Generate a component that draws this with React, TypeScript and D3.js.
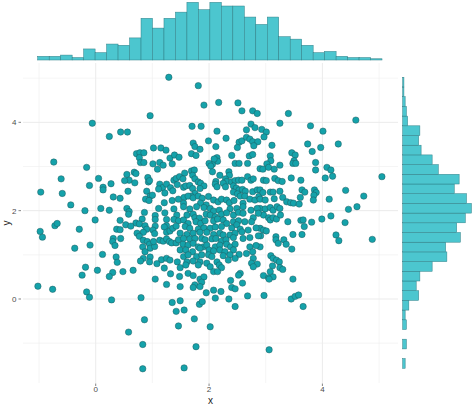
import React from "react";
import * as d3 from "d3";

const W = 474;
const H = 405;

const xMajorTicks = [0, 2, 4];
const yMajorTicks = [0, 2, 4];
const xMinorTicks = [-1, 1, 3, 5];
const yMinorTicks = [-1, 1, 3, 5];

// marginal histogram of x: 30 bins between these limits (counts)
const xHistRange = [-1.023, 5.052];
const xHistCounts = [3, 3, 4, 2, 9, 6, 13, 12, 18, 34, 26, 34, 39, 47, 41, 47, 44, 44, 35, 29, 35, 19, 17, 12, 6, 7, 3, 2, 2, 1];

// marginal histogram of y: 30 bins, from bottom (low y) to top (high y)
const yHistRange = [-1.569, 5.019];
const yHistCounts = [2, 0, 3, 0, 3, 2, 5, 13, 11, 14, 24, 36, 35, 47, 44, 51, 56, 52, 42, 46, 29, 24, 15, 13, 14, 4, 3, 2, 1, 1];

const points: [number, number][] = [
  [1.29,5.02],[1.81,4.83],[1.91,4.39],[2.17,4.45],[2.51,4.44],
  [-0.06,3.98],[-0.74,3.10],[-0.16,2.98],[-0.61,2.72],[-0.97,2.42],
  [-0.59,2.39],[-0.11,2.57],[0.05,2.73],[-0.44,2.13],[-0.19,2.00],
  [-0.01,1.79],[-0.29,1.58],[-0.72,1.66],[-0.68,1.71],[-0.98,1.53],[-0.94,1.40],
  [-0.37,1.15],[-0.10,1.22],[-0.18,0.72],[-0.24,0.54],[0.03,0.65],[-1.02,0.29],[-0.76,0.22],[-0.16,0.16],[-0.11,0.04],[0.28,-0.02],[0.80,0.03],[0.86,-0.47],[0.58,-0.75],[0.83,-1.03],[0.83,-1.58],[1.56,-1.56],[1.77,-1.08],[2.02,-0.63],[1.74,-0.45],[1.46,-0.61],[1.35,-0.08],[1.49,-0.04],[1.42,-0.28],[1.56,-0.25],[1.83,-0.12],[1.88,-0.06],
  [3.66,-0.17],[2.46,-0.17],[3.06,-1.15],[1.95,0.14],[2.08,0.20],[2.11,0.02],[2.21,0.17],[2.35,0.00],[2.68,0.07],[2.97,0.08],[3.45,0.00],[3.52,0.06],[3.58,0.09],
  [4.59,4.05],[5.05,2.77],[4.41,2.46],[4.73,2.33],[4.61,2.09],[4.46,2.03],[4.40,1.73],[4.88,1.35],
  [0.96,4.15],[0.24,3.68],[0.44,3.78],[0.56,3.78],[1.02,3.42],[1.15,3.42],[1.24,3.37],[0.72,3.29],[0.78,3.31],[0.85,3.31],[0.77,3.20],[0.79,3.09],[0.85,3.09],[1.01,3.06],[1.13,3.09],[1.19,3.03],[1.09,2.94],[1.31,3.19],[1.39,3.26],[1.47,3.21],[1.35,3.06],
  [0.55,2.82],[0.68,2.87],[0.71,2.84],[0.59,2.69],[0.51,2.68],[0.69,2.63],[0.92,2.75],[0.93,2.65],[0.95,2.68],[0.27,2.61],[0.13,2.53],[0.13,2.47],[0.57,2.44],[0.31,2.31],[0.43,2.28],[0.90,2.44],[0.96,2.33],[1.00,2.35],[0.88,2.26],[0.94,2.23],[1.13,2.60],[1.18,2.52],[1.11,2.49],[1.25,2.60],[1.32,2.52],[1.36,2.45],[1.22,2.40],[1.38,2.69],[1.42,2.73],[1.48,2.77],[1.44,2.59],[1.21,2.18],[1.35,2.23],[1.46,2.26],
  [2.58,4.26],[2.77,4.26],[2.85,4.20],[1.70,3.91],[1.86,3.91],[2.14,3.80],[2.74,3.96],[2.81,3.88],[2.66,3.83],[2.30,3.64],[1.99,3.58],[1.72,3.53],[1.75,3.45],[1.84,3.39],[1.69,3.29],[1.77,3.25],[2.12,3.45],[2.53,3.55],[2.58,3.58],[2.50,3.43],[2.66,3.66],[2.72,3.62],[2.77,3.56],[2.86,3.56],[2.79,3.47],[2.40,3.25],[2.71,3.24],[2.77,3.27],[2.14,3.20],[2.15,3.12],[2.06,3.05],[2.00,3.07],[2.03,3.01],[2.09,3.17],[2.46,3.07],[2.53,3.07],[2.68,3.07],[2.06,2.88],
  [1.69,2.90],[1.74,2.92],[1.71,2.80],[1.57,2.85],[1.54,2.72],[1.75,2.72],[1.81,2.65],[1.85,2.62],[1.91,2.56],[1.84,2.50],[1.55,2.53],[1.59,2.56],[1.66,2.57],[1.71,2.50],[1.75,2.39],[1.68,2.33],[2.19,2.80],[2.35,2.88],[2.36,2.80],[2.12,2.66],[2.11,2.60],[2.14,2.54],[2.29,2.72],[2.31,2.66],[2.25,2.62],[2.29,2.54],[2.40,2.65],[2.46,2.68],[2.52,2.69],[2.58,2.69],[2.43,2.56],[2.48,2.51],[2.53,2.47],[2.59,2.48],[2.64,2.44],[2.68,2.77],[2.74,2.69],[2.78,2.72],[2.43,2.42],[2.50,2.38],[2.55,2.33],[2.63,2.33],[2.77,2.43],[2.85,2.47],[1.56,2.30],[1.63,2.33],[1.72,2.29],[1.81,2.33],[1.88,2.28],[1.99,2.32],[2.08,2.24],[2.16,2.20],[2.22,2.26],[2.31,2.24],[2.36,2.18],[2.44,2.23],[2.72,2.26],[2.81,2.24],[2.88,2.32],[1.55,2.17],[1.85,2.17],[1.95,2.13],[2.60,2.17],
  [3.40,4.20],[3.25,3.98],[3.79,3.92],[4.01,3.80],[2.93,3.84],[3.01,3.78],[2.97,3.67],[3.11,3.48],[3.74,3.51],[3.82,3.34],[3.97,3.43],[4.28,3.51],[3.46,3.31],[3.52,3.26],[3.50,3.13],[3.48,3.07],[3.53,3.07],[3.08,3.24],[3.09,3.13],[3.02,3.06],[3.88,3.09],[3.88,2.92],[3.25,3.03],[2.90,2.95],[2.95,2.94],[3.05,2.98],[3.15,2.94],[4.08,2.98],[4.15,2.92],[4.18,2.78],[4.05,2.74],[3.45,2.74],[3.62,2.69],[2.96,2.69],[3.01,2.68],[3.16,2.73],[3.22,2.68],[3.29,2.66],[2.90,2.47],[2.95,2.41],[3.08,2.42],[3.13,2.42],[3.25,2.44],[3.64,2.47],[3.69,2.42],[3.86,2.47],[3.89,2.41],[3.85,2.35],[3.15,2.27],[3.30,2.30],[2.90,2.26],[2.99,2.24],[3.61,2.30],[3.84,2.24],[4.12,2.26],[3.37,2.20],[3.44,2.18],[3.49,2.17],[3.59,2.15],
  [2.90,2.05],[2.99,2.04],[3.08,2.07],[3.13,2.01],[3.20,2.09],[3.25,2.05],[2.96,1.90],[3.05,1.84],[3.08,1.79],[3.13,1.84],[3.19,1.81],[3.26,1.90],[3.39,1.75],[3.62,1.78],[3.66,1.79],[3.68,1.64],[3.81,1.74],[3.99,1.81],[4.15,1.88],[2.90,1.60],[2.96,1.56],[3.01,1.54],[2.91,1.43],[2.90,1.18],[3.18,1.41],[3.18,1.34],[3.22,1.26],[3.32,1.34],[3.36,1.24],[3.48,1.46],[3.64,1.46],[3.46,1.13],[4.24,1.45],[4.29,1.32],[3.09,0.98],[3.13,0.92],[3.19,0.88],[3.12,0.75],[3.24,0.84],[3.25,0.71],[3.30,0.67],[2.96,0.53],[3.08,0.62],[3.05,0.48],[3.13,0.50],[3.06,0.45],[3.48,0.45],
  [0.09,2.05],[0.24,2.01],[0.55,2.05],[0.59,1.98],[0.58,1.92],[0.86,1.96],[0.82,1.81],[1.11,2.05],[1.05,1.89],[1.05,1.80],[1.22,1.95],[1.25,1.80],[1.25,1.66],[1.38,2.04],[1.43,1.90],[1.38,1.80],[1.46,1.77],[0.43,1.78],[0.71,1.72],[0.77,1.70],[0.87,1.66],[0.90,1.58],[0.53,1.68],[0.62,1.65],[0.37,1.58],[0.43,1.57],[1.05,1.65],[1.01,1.56],[1.04,1.48],[1.21,1.63],[1.25,1.51],[1.31,1.54],[1.36,1.60],[1.42,1.65],[0.84,1.51],[0.73,1.49],[0.77,1.42],[0.31,1.37],[0.30,1.30],[0.34,1.21],[0.44,1.37],[0.84,1.33],[0.91,1.30],[0.95,1.24],[0.83,1.18],[0.96,1.15],[1.04,1.19],[1.02,1.30],[1.13,1.33],[1.19,1.31],[1.25,1.36],[1.30,1.30],[1.34,1.27],[1.42,1.27],[1.46,1.34],[0.87,1.07],[0.84,0.92],[0.96,0.95],[0.79,0.86],[0.95,0.84],[0.12,1.01],[0.36,0.95],[0.38,0.83],[1.16,0.89],[1.25,0.92],[1.31,0.88],[1.08,0.80],[1.21,0.70],[1.44,0.84],[0.66,0.65],[0.48,0.62],[0.30,0.60],[0.24,0.51],[1.32,0.57],[1.48,0.51],[1.05,0.45],[1.25,0.33],
  [1.55,2.09],[1.66,2.04],[1.78,2.09],[1.91,2.07],[2.02,2.05],[2.08,1.99],[2.18,2.01],[2.37,2.04],[2.49,2.05],[2.60,2.09],[2.74,2.01],[2.85,2.05],[2.87,1.94],
  [1.61,1.90],[1.72,1.92],[1.75,1.84],[1.83,1.83],[1.95,1.92],[2.02,1.90],[2.11,1.86],[2.22,1.92],[2.31,1.95],[2.43,1.90],[2.52,1.96],[2.60,1.94],[2.78,1.84],
  [1.55,1.79],[1.63,1.71],[1.77,1.75],[1.85,1.71],[1.93,1.77],[2.08,1.77],[2.15,1.81],[2.25,1.79],[2.31,1.71],[2.43,1.75],[2.52,1.77],[2.63,1.75],[2.75,1.75],
  [1.58,1.64],[1.66,1.60],[1.81,1.58],[1.91,1.61],[2.02,1.60],[2.11,1.63],[2.22,1.64],[2.40,1.61],[2.49,1.68],[2.55,1.58],[2.69,1.56],[2.83,1.61],
  [1.49,1.49],[1.61,1.46],[1.72,1.49],[1.84,1.51],[1.96,1.51],[2.08,1.46],[2.19,1.49],[2.25,1.45],[2.37,1.45],[2.46,1.49],[2.58,1.52],[2.72,1.39],
  [1.55,1.37],[1.66,1.36],[1.75,1.37],[1.87,1.37],[1.93,1.34],[2.05,1.36],[2.12,1.37],[2.22,1.31],[2.30,1.34],[2.43,1.39],[2.60,1.37],[2.87,1.43],
  [1.54,1.24],[1.63,1.22],[1.72,1.26],[1.81,1.18],[1.90,1.18],[1.96,1.22],[2.11,1.18],[2.19,1.22],[2.31,1.24],[2.38,1.18],[2.46,1.24],[2.72,1.18],[2.83,1.21],
  [1.49,1.11],[1.59,1.11],[1.71,1.07],[1.84,1.15],[2.00,1.11],[2.08,1.09],[2.19,1.11],[2.28,1.07],[2.43,1.11],[2.53,1.01],[2.66,1.03],[2.77,1.07],
  [1.55,0.96],[1.63,1.00],[1.78,0.96],[1.87,1.00],[1.99,1.00],[2.05,0.96],[2.25,0.98],[2.37,1.00],[2.46,0.92],[2.78,0.92],
  [1.61,0.84],[1.72,0.86],[1.84,0.84],[1.96,0.81],[2.14,0.84],[2.34,0.88],[2.75,0.81],[2.85,0.79],
  [1.49,0.71],[1.59,0.77],[1.81,0.77],[2.02,0.73],[2.18,0.77],[2.22,0.71],[2.78,0.73],
  [2.08,0.62],[2.15,0.62],[2.55,0.58],[2.52,0.54],[1.63,0.58],[1.72,0.53],
  [1.84,0.45],[1.91,0.50],[1.87,0.38],[1.75,0.32],[2.38,0.42],[2.59,0.36],
  [1.49,0.28],[1.72,0.26],[1.84,0.28],[2.40,0.26],[2.46,0.23],
];

const PANEL = { left: 23, right: 398, top: 63, bottom: 383 };
const FONT = "'Liberation Sans', Arial, Helvetica, sans-serif";
const HIST_FILL = "#4CC6CF";
const HIST_STROKE = "#2E7F86";
const PT_FILL = "#14A2AA";
const PT_STROKE = "#1F5C60";

export default function App() {
  const x = d3.scaleLinear().domain([-1.283, 5.334]).range([PANEL.left, PANEL.right]);
  const y = d3.scaleLinear().domain([-1.902, 5.343]).range([PANEL.bottom, PANEL.top]);

  const nb = xHistCounts.length;
  const xEdges = d3.range(nb + 1).map((i) => xHistRange[0] + (i * (xHistRange[1] - xHistRange[0])) / nb);
  const yEdges = d3.range(yHistCounts.length + 1).map((i) => yHistRange[0] + (i * (yHistRange[1] - yHistRange[0])) / yHistCounts.length);

  const countPx = 1.227;
  const topBase = 60;
  const topCount = d3.scaleLinear().domain([0, 1]).range([topBase, topBase - countPx]);
  const rightBase = 402.7;
  const rightCount = d3.scaleLinear().domain([0, 1]).range([rightBase, rightBase + countPx]);

  return (
    <svg width={W} height={H} style={{ position: "absolute", left: 0, top: 0, background: "#fff" }} fontFamily={FONT}>
      {/* grid */}
      {xMinorTicks.map((t) => (
        <line key={"xm" + t} x1={x(t)} x2={x(t)} y1={PANEL.top} y2={PANEL.bottom} stroke="#EFEFEF" strokeWidth={0.6} />
      ))}
      {yMinorTicks.map((t) => (
        <line key={"ym" + t} y1={y(t)} y2={y(t)} x1={PANEL.left} x2={PANEL.right} stroke="#EFEFEF" strokeWidth={0.6} />
      ))}
      {xMajorTicks.map((t) => (
        <line key={"xM" + t} x1={x(t)} x2={x(t)} y1={PANEL.top} y2={PANEL.bottom} stroke="#EBEBEB" strokeWidth={1} />
      ))}
      {yMajorTicks.map((t) => (
        <line key={"yM" + t} y1={y(t)} y2={y(t)} x1={PANEL.left} x2={PANEL.right} stroke="#EBEBEB" strokeWidth={1} />
      ))}

      {/* points */}
      {points.map((p, i) => (
        <circle key={i} cx={x(p[0])} cy={y(p[1])} r={3.2} fill={PT_FILL} stroke={PT_STROKE} strokeWidth={0.5} />
      ))}

      {/* top histogram */}
      {xHistCounts.map((c, i) =>
        c > 0 ? (
          <rect key={"hx" + i} x={x(xEdges[i])} width={x(xEdges[i + 1]) - x(xEdges[i])} y={topCount(c)} height={topBase - topCount(c)} fill={HIST_FILL} stroke={HIST_STROKE} strokeWidth={0.5} />
        ) : null
      )}
      {/* right histogram */}
      {yHistCounts.map((c, i) =>
        c > 0 ? (
          <rect key={"hy" + i} x={rightBase} width={rightCount(c) - rightBase} y={y(yEdges[i + 1])} height={y(yEdges[i]) - y(yEdges[i + 1])} fill={HIST_FILL} stroke={HIST_STROKE} strokeWidth={0.5} />
        ) : null
      )}

      {/* axes ticks & labels */}
      {xMajorTicks.map((t) => (
        <g key={"xt" + t}>
          <line x1={x(t)} x2={x(t)} y1={PANEL.bottom + 0.5} y2={PANEL.bottom + 3} stroke="#333" strokeWidth={0.6} />
          <text x={x(t)} y={392} textAnchor="middle" fontSize={8} fill="#4D4D4D">{t}</text>
        </g>
      ))}
      {yMajorTicks.map((t) => (
        <g key={"yt" + t}>
          <line x1={PANEL.left - 4.5} x2={PANEL.left - 2} y1={y(t)} y2={y(t)} stroke="#333" strokeWidth={0.6} />
          <text x={16.5} y={y(t) + 3} textAnchor="end" fontSize={8} fill="#4D4D4D">{t}</text>
        </g>
      ))}
      <text x={(PANEL.left + PANEL.right) / 2} y={404} textAnchor="middle" fontSize={10} fill="#222">x</text>
      <text transform={`translate(9.5, ${(PANEL.top + PANEL.bottom) / 2}) rotate(-90)`} textAnchor="middle" fontSize={10} fill="#222">y</text>
    </svg>
  );
}
